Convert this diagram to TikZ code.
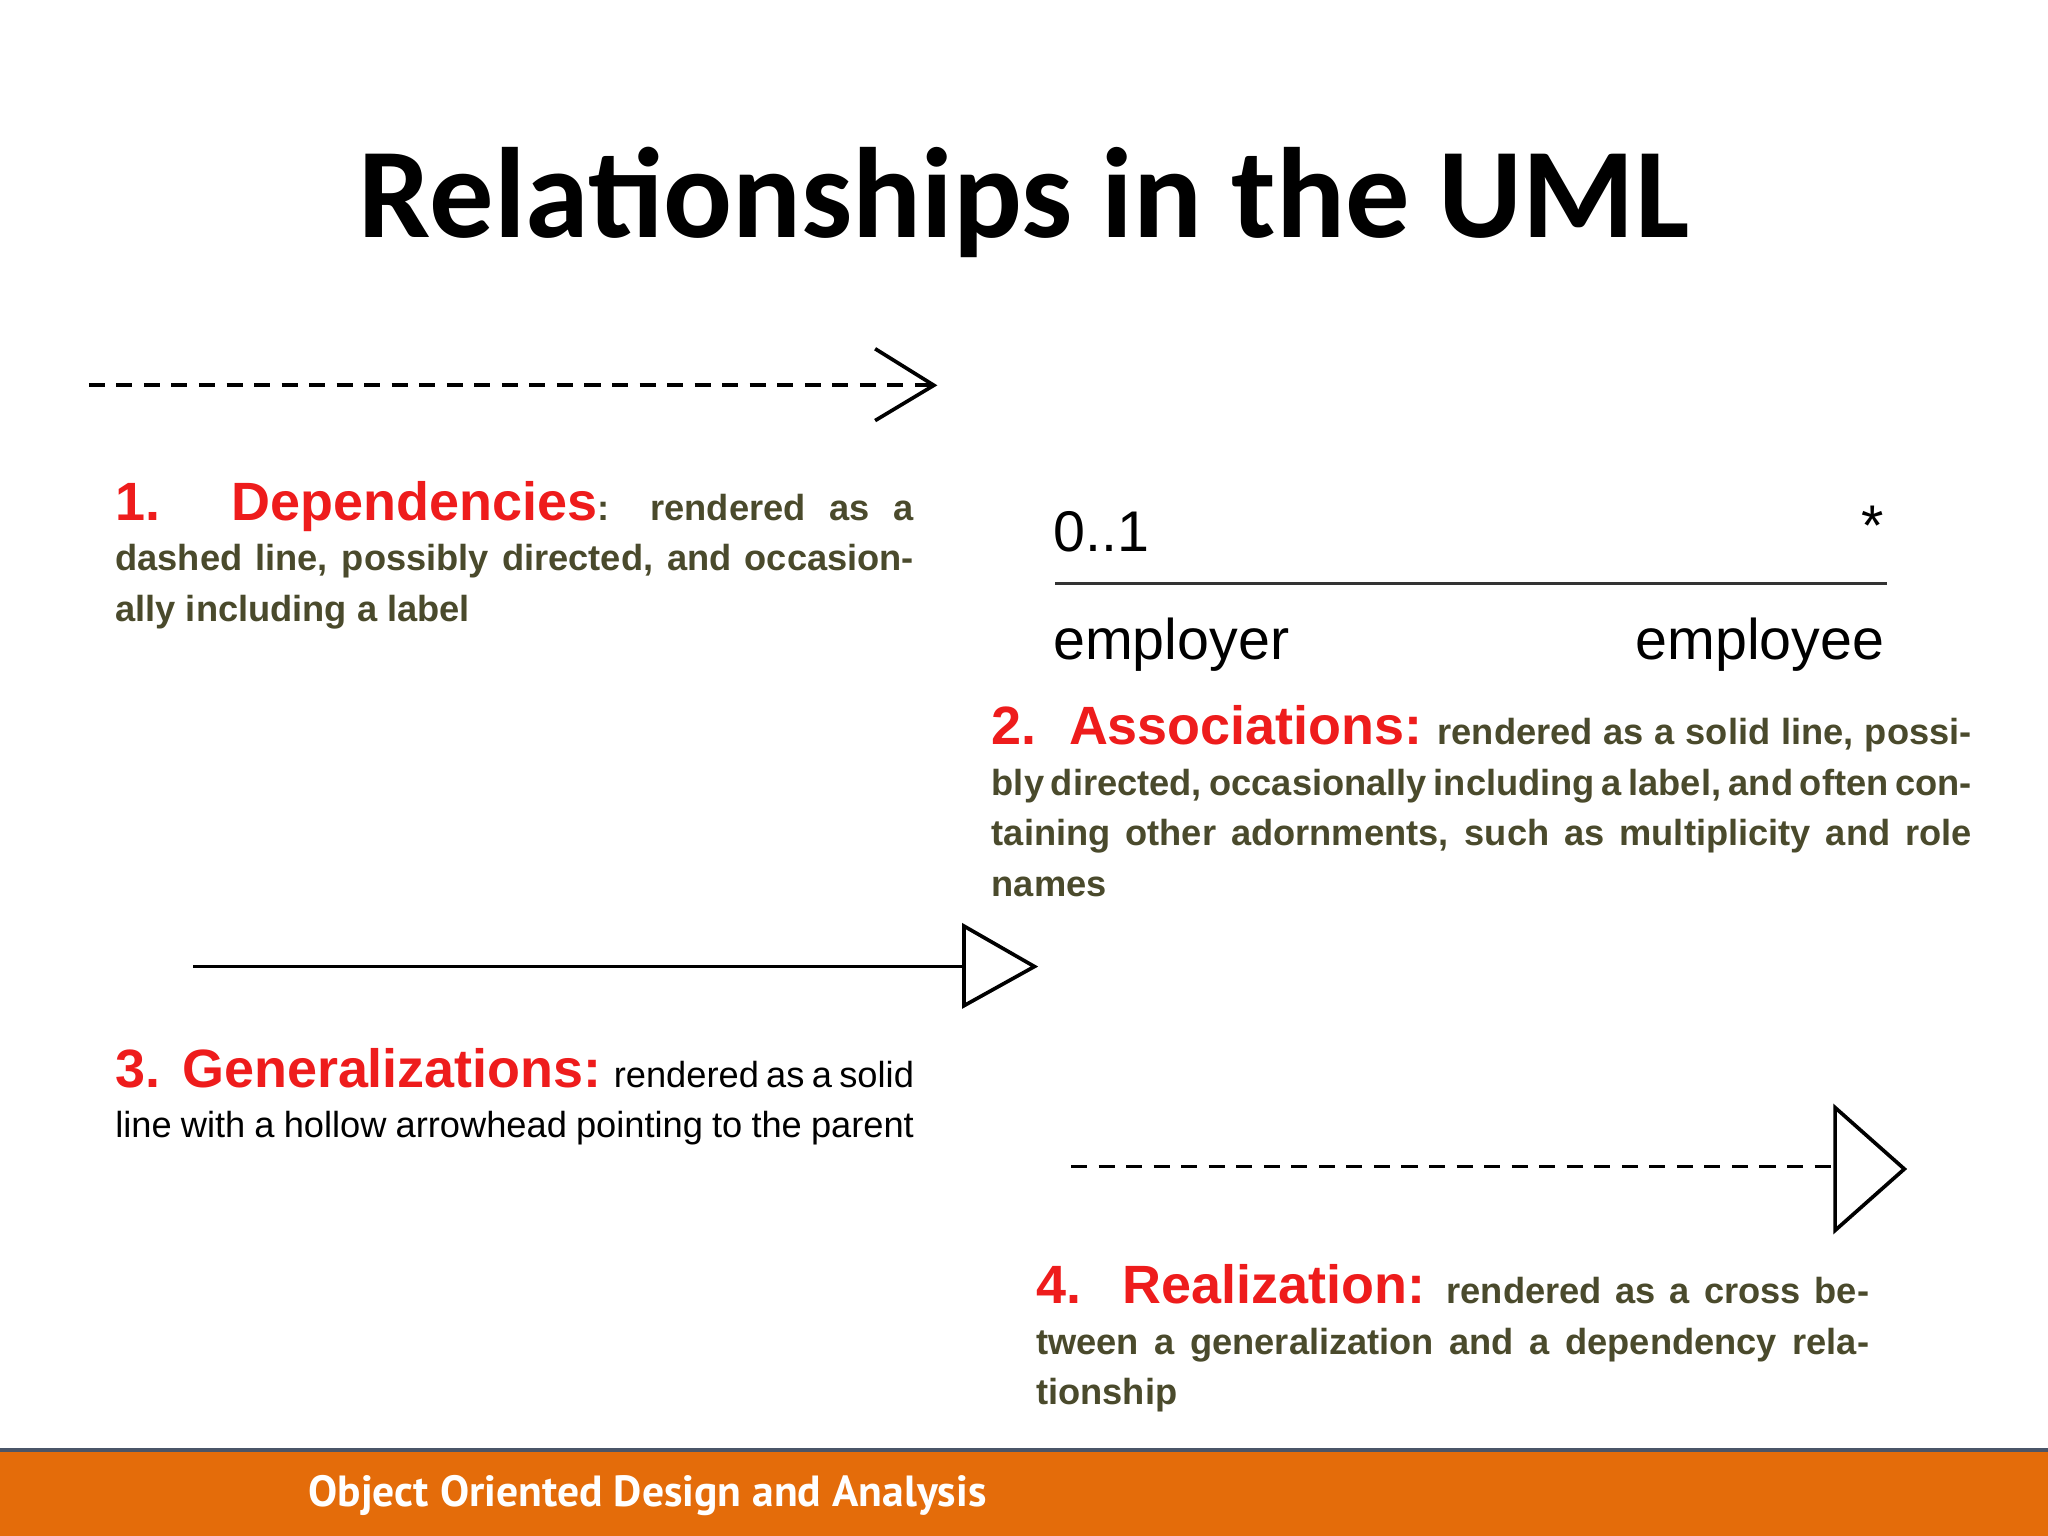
\documentclass[tikz,border=0pt]{standalone}
\usepackage{fontspec}
\setmainfont{Liberation Sans}
\newfontfamily\titlefont{Carlito}
\newfontfamily\footfont{PT Sans}
\definecolor{olive}{HTML}{4A4A2C}
\definecolor{hred}{HTML}{EE1C1C}
\definecolor{bar}{HTML}{E46C0A}
\definecolor{barline}{HTML}{4A5568}
\begin{document}
\begin{tikzpicture}[x=0.02cm,y=-0.02cm,
  body/.style={anchor=north west,inner sep=0pt,align=justify,font=\fontsize{15.8}{22}\selectfont\bfseries,text=olive},
  head/.style={text=hred,font=\fontsize{23.5}{22}\selectfont\bfseries},
  uml/.style={inner sep=0pt,font=\fontsize{25}{30}\selectfont},
  ln/.style={line width=1.6pt,black},
  dsh/.style={ln,dash pattern=on 7pt off 5pt}]
\useasboundingbox (0,0) rectangle (1568,1176);
\fill[white] (0,0) rectangle (1568,1176);
\node[font=\titlefont\fontsize{56}{60}\selectfont\bfseries] (title) at (784,155) {Relationships in the UML};
% 1 dependency
\coordinate (d1) at (68,295); \coordinate (d2) at (715,295);
\draw[dsh] (d1) -- (d2);
\draw[ln] (670,267) -- (d2) -- (670,322);
\node[body,text width=348pt] (t1) at (88,368) {{\color{hred}\fontsize{23.5}{22}\selectfont 1.\ \ Dependencies}: rendered as a dashed line, possibly directed, and occasionally including a label\par};
% 2 association
\coordinate (a1) at (808,447); \coordinate (a2) at (1445,447);
\draw[line width=1.4pt,black!80] (a1) -- (a2);
\node[uml,anchor=base west] (m1) at (806,422) {0..1};
\node[uml,anchor=base east] (m2) at (1443,418) {*};
\node[uml,anchor=base west] (r1) at (806,505) {employer};
\node[uml,anchor=base east] (r2) at (1443,505) {employee};
\node[body,text width=427pt] (t2) at (759,540) {{\color{hred}\fontsize{23.5}{22}\selectfont 2.\ \ Associations:} rendered as a solid line, possibly directed, occasionally including a label, and often containing other adornments, such as multiplicity and role names\par};
% 3 generalization
\coordinate (g1) at (148,740); \coordinate (g2) at (738,740);
\draw[ln] (g1) -- (g2);
\draw[ln,fill=white] (738,709) -- (792,740) -- (738,770) -- cycle;
\node[body,text width=348pt,text=black,font=\fontsize{15.8}{22}\selectfont] (t3) at (88,802) {{\color{hred}\bfseries\fontsize{23.5}{22}\selectfont 3.\ \ Generalizations:} rendered as a solid line with a hollow arrowhead pointing to the parent\par};
% 4 realization
\coordinate (r1a) at (820,893); \coordinate (r2a) at (1405,893);
\draw[dsh] (r1a) -- (r2a);
\draw[ln,fill=white] (1405,848) -- (1458,895) -- (1405,942) -- cycle;
\node[body,text width=363pt] (t4) at (793,968) {{\color{hred}\fontsize{23.5}{22}\selectfont 4.\ \ Realization:} rendered as a cross between a generalization and a dependency relationship\par};
% footer
\fill[bar] (0,1110) rectangle (1568,1176);
\draw[barline,line width=2pt] (0,1110) -- (1568,1110);
\node[anchor=west,inner sep=0pt,text=white,font=\footfont\fontsize{19}{22}\selectfont\bfseries] (foot) at (236,1145) {Object Oriented Design and Analysis};
\end{tikzpicture}
\end{document}
